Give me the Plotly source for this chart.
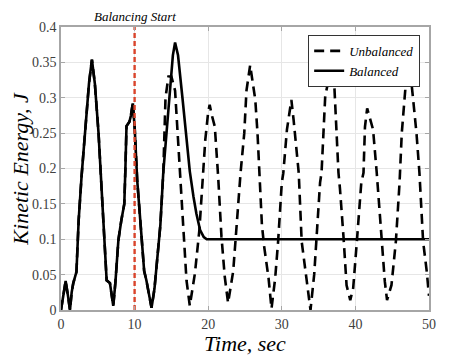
import plotly.graph_objects as go

# Shared start (both responses coincide before ~t=13.9 s)
common_t = [0, 0.3, 0.63, 0.95, 1.22, 1.45, 1.67, 2.1, 2.4, 2.8, 3.3, 3.8, 4.2, 4.6, 5.1, 5.5,
            5.75, 6.0, 6.2, 6.65, 7.1, 7.4, 7.8, 8.2, 8.6, 8.75, 8.9, 9.3, 9.5, 9.75, 10.0, 10.35,
            10.8, 11.3, 11.6, 11.9, 12.3, 12.7, 13.1, 13.5, 13.9]
common_ke = [0, 0.02, 0.041, 0.02, 0.0, 0.025, 0.038, 0.054, 0.127, 0.19, 0.26, 0.32, 0.354, 0.32, 0.25, 0.184,
             0.127, 0.08, 0.042, 0.038, 0.006, 0.04, 0.099, 0.127, 0.15, 0.2, 0.26, 0.266, 0.275, 0.292, 0.26, 0.184,
             0.12, 0.055, 0.042, 0.025, 0.003, 0.03, 0.07, 0.12, 0.195]

balanced_tail_t = [14.3, 14.8, 15.2, 15.5, 15.9, 16.5, 17.0, 17.5, 18.0, 18.4, 18.9, 19.4, 19.8, 25, 30, 35, 40, 45, 50]
balanced_tail_ke = [0.25, 0.31, 0.36, 0.378, 0.36, 0.3, 0.245, 0.196, 0.16, 0.136, 0.113, 0.103, 0.1,
                    0.1, 0.1, 0.1, 0.1, 0.1, 0.1]

unbalanced_tail_t = [14.2, 14.6, 15.0, 15.5, 16.15, 16.6, 17.05, 17.5, 18.2, 18.8, 19.3, 19.6, 20.0, 20.2, 20.5,
                     20.9, 21.35, 21.8, 22.25, 22.7, 23.4, 24.1, 24.4, 24.9, 25.2, 25.7, 26.1, 26.4, 26.7, 27.0,
                     27.3, 27.6, 28.2, 28.6, 29.1, 29.5, 30.0, 30.2, 30.7, 31.1, 31.3, 31.6, 32.3, 32.7, 33.4,
                     33.9, 34.4, 34.7, 35.2, 35.4, 35.9, 36.5, 37.1, 37.7, 37.9, 38.4, 38.8, 39.3, 39.7, 40.2,
                     40.8, 41.1, 41.3, 41.6, 42.0, 42.4, 42.9, 43.0, 43.6, 44.0, 44.3, 44.9, 45.5, 46.0, 46.3,
                     46.7, 47.0, 47.6, 48.3, 48.7, 49.2, 49.7, 50.0]
unbalanced_tail_ke = [0.3, 0.33, 0.33, 0.31, 0.198, 0.104, 0.042, 0.006, 0.052, 0.113, 0.189, 0.24, 0.28, 0.29, 0.275,
                      0.259, 0.189, 0.104, 0.047, 0.01, 0.055, 0.16, 0.194, 0.25, 0.31, 0.346, 0.315, 0.297, 0.25, 0.194,
                      0.12, 0.09, 0.045, 0.002, 0.045, 0.097, 0.18, 0.193, 0.255, 0.283, 0.297, 0.269, 0.194, 0.097, 0.04,
                      0.0, 0.05, 0.1, 0.18, 0.194, 0.302, 0.333, 0.325, 0.194, 0.172, 0.101, 0.035, 0.014, 0.031, 0.097,
                      0.18, 0.194, 0.259, 0.285, 0.27, 0.255, 0.194, 0.18, 0.097, 0.04, 0.014, 0.035, 0.097, 0.18, 0.25,
                      0.307, 0.34, 0.323, 0.25, 0.194, 0.097, 0.054, 0.02]

balance_start_t = 10
x_ticks = [0, 10, 20, 30, 40, 50]
y_ticks = [0, 0.05, 0.1, 0.15, 0.2, 0.25, 0.3, 0.35, 0.4]
y_tick_labels = ["0", "0.05", "0.1", "0.15", "0.2", "0.25", "0.3", "0.35", "0.4"]

serif = "Liberation Serif"

fig = go.Figure()
fig.add_trace(go.Scatter(x=common_t + unbalanced_tail_t, y=common_ke + unbalanced_tail_ke,
                         mode="lines", name="Unbalanced",
                         line=dict(color="black", width=2.6, dash="10px,6px")))
fig.add_trace(go.Scatter(x=common_t + balanced_tail_t, y=common_ke + balanced_tail_ke,
                         mode="lines", name="Balanced",
                         line=dict(color="black", width=2.6)))
fig.add_trace(go.Scatter(x=[balance_start_t, balance_start_t], y=[0, 0.4], mode="lines",
                         showlegend=False, line=dict(color="#d9442b", width=2.4, dash="5px,3px")))

axis_common = dict(showgrid=True, gridcolor="#e6e6e6", gridwidth=1, zeroline=False,
                   showline=True, linecolor="#a6a6a6", linewidth=1.5, mirror="ticks",
                   ticks="inside", ticklen=4, tickcolor="#a6a6a6",
                   tickfont=dict(family=serif, size=14, color="#404040"))

# page body has an 8px default margin, so the figure is sized/offset to compensate
fig.update_layout(
    width=466, height=347,
    margin=dict(l=53, r=45, t=19, b=45),
    paper_bgcolor="white", plot_bgcolor="white",
    xaxis=dict(range=[0, 50], tickvals=x_ticks, **axis_common),
    yaxis=dict(range=[0, 0.4], tickvals=y_ticks, ticktext=y_tick_labels, **axis_common),
    legend=dict(x=0.976, y=0.972, xanchor="right", yanchor="top",
                bgcolor="white", bordercolor="#333333", borderwidth=1,
                font=dict(family=serif, size=13, color="black", style="italic"),
                tracegroupgap=0, itemwidth=30),
    showlegend=True,
    annotations=[
        dict(text="Balancing Start", x=balance_start_t, y=1, xref="x", yref="paper",
             xanchor="center", yanchor="bottom", yshift=1, showarrow=False,
             font=dict(family=serif, size=13, color="black", style="italic")),
        dict(text="Kinetic Energy, J", x=-0.111, y=0.5, xref="paper", yref="paper",
             xanchor="center", yanchor="middle",
             textangle=-90, showarrow=False,
             font=dict(family=serif, size=22, color="black", style="italic")),
        dict(text="Time, sec", x=0.5, y=-0.117, xref="paper", yref="paper",
             xanchor="center", yanchor="middle",
             showarrow=False, font=dict(family=serif, size=22, color="black", style="italic")),
    ],
)

fig.write_html("out.html")
